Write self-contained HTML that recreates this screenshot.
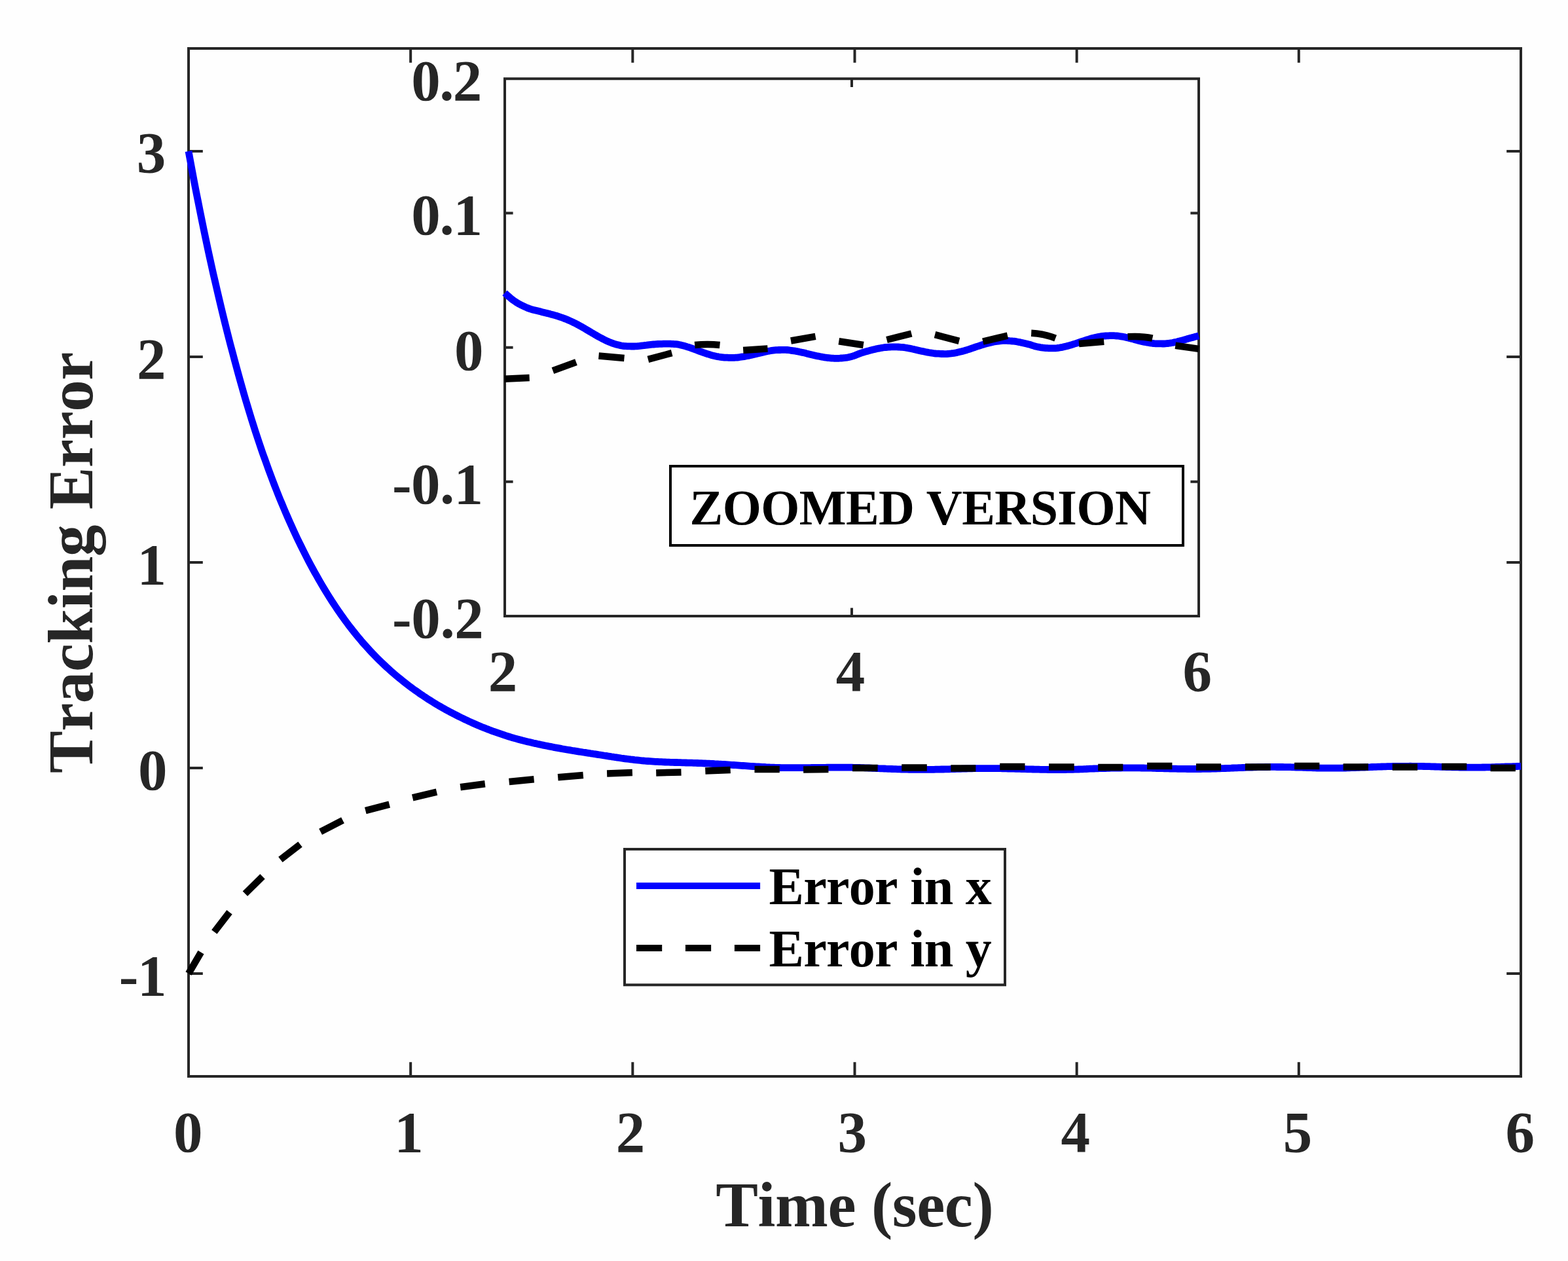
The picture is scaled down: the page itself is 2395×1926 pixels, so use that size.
<!DOCTYPE html>
<html lang="en"><head><meta charset="utf-8"><title>Tracking Error</title>
<style>
html,body{margin:0;padding:0;background:#fefefe;}
body{width:2395px;height:1926px;overflow:hidden;}
svg{display:block;}
.b{font-family:"Liberation Serif",serif;font-weight:bold;font-kerning:none;font-variant-ligatures:none;}
</style></head><body>
<svg width="2395" height="1926" viewBox="0 0 2395 1926">
<rect x="0" y="0" width="2395" height="1926" fill="#fefefe"/>
<path d="M288.0,74.0 H2323.0 V1644.0 H288.0 Z M627.17,1644.0 v-21.8 M627.17,74.0 v21.8 M966.33,1644.0 v-21.8 M966.33,74.0 v21.8 M1305.50,1644.0 v-21.8 M1305.50,74.0 v21.8 M1644.67,1644.0 v-21.8 M1644.67,74.0 v21.8 M1983.83,1644.0 v-21.8 M1983.83,74.0 v21.8 M288.0,1487.00 h21.8 M2323.0,1487.00 h-21.8 M288.0,1173.00 h21.8 M2323.0,1173.00 h-21.8 M288.0,859.00 h21.8 M2323.0,859.00 h-21.8 M288.0,545.00 h21.8 M2323.0,545.00 h-21.8 M288.0,231.00 h21.8 M2323.0,231.00 h-21.8" fill="none" stroke="#262626" stroke-width="4" stroke-linejoin="miter"/>
<path d="M771.0,120.3 H1831.0 V941.0 H771.0 Z M1301.00,941.0 v-12.6 M1301.00,120.3 v12.6 M771.0,735.83 h12.6 M1831.0,735.83 h-12.6 M771.0,530.65 h12.6 M1831.0,530.65 h-12.6 M771.0,325.48 h12.6 M1831.0,325.48 h-12.6" fill="none" stroke="#262626" stroke-width="4" stroke-linejoin="miter"/>
<path d="M288.0,231.0 L290.9,246.9 L293.8,262.6 L296.7,277.9 L299.6,293.1 L302.6,307.9 L305.5,322.5 L308.4,336.9 L311.3,351.0 L314.2,364.9 L317.1,378.6 L320.0,392.0 L322.9,405.2 L325.8,418.2 L328.8,431.0 L331.7,443.6 L334.6,456.0 L337.5,468.2 L340.4,480.2 L343.3,492.1 L346.2,503.7 L349.1,515.2 L352.0,526.5 L355.0,537.6 L357.9,548.6 L360.8,559.4 L363.7,570.0 L366.6,580.5 L369.5,590.8 L372.4,601.0 L375.3,611.0 L378.3,620.9 L381.2,630.5 L384.1,640.0 L387.0,649.2 L389.9,658.3 L392.8,667.2 L395.7,675.9 L398.6,684.5 L401.5,692.9 L404.5,701.2 L407.4,709.3 L410.3,717.3 L413.2,725.2 L416.1,732.9 L419.0,740.5 L421.9,747.9 L424.8,755.3 L427.7,762.5 L430.7,769.5 L433.6,776.5 L436.5,783.3 L439.4,790.0 L442.3,796.7 L445.2,803.1 L448.1,809.5 L451.0,815.8 L453.9,822.0 L456.9,828.1 L459.8,834.0 L462.7,839.9 L465.6,845.7 L468.5,851.4 L471.4,857.0 L474.3,862.5 L477.2,867.9 L480.1,873.2 L483.1,878.4 L486.0,883.6 L488.9,888.6 L491.8,893.6 L494.7,898.5 L497.6,903.3 L500.5,908.0 L503.4,912.6 L506.3,917.2 L509.3,921.7 L512.2,926.1 L515.1,930.4 L518.0,934.7 L520.9,938.8 L523.8,942.9 L526.7,947.0 L529.6,950.9 L532.5,954.8 L535.5,958.6 L538.4,962.4 L541.3,966.0 L544.2,969.6 L547.1,973.2 L550.0,976.6 L552.9,980.1 L555.8,983.4 L558.8,986.7 L561.7,989.9 L564.6,993.1 L567.5,996.2 L570.4,999.2 L573.3,1002.2 L576.2,1005.2 L579.1,1008.1 L582.0,1010.9 L585.0,1013.7 L587.9,1016.5 L590.8,1019.2 L593.7,1021.8 L596.6,1024.4 L599.5,1027.0 L602.4,1029.5 L605.3,1032.0 L608.2,1034.4 L611.2,1036.8 L614.1,1039.2 L617.0,1041.5 L619.9,1043.8 L622.8,1046.0 L625.7,1048.2 L628.6,1050.4 L631.5,1052.5 L634.4,1054.6 L637.4,1056.6 L640.3,1058.7 L643.2,1060.7 L646.1,1062.6 L649.0,1064.6 L651.9,1066.5 L654.8,1068.4 L657.7,1070.2 L660.6,1072.0 L663.6,1073.8 L666.5,1075.6 L669.4,1077.3 L672.3,1079.0 L675.2,1080.7 L678.1,1082.3 L681.0,1083.9 L683.9,1085.5 L686.8,1087.1 L689.8,1088.6 L692.7,1090.2 L695.6,1091.6 L698.5,1093.1 L701.4,1094.6 L704.3,1096.0 L707.2,1097.4 L710.1,1098.8 L713.1,1100.2 L716.0,1101.6 L718.9,1102.9 L721.8,1104.2 L724.7,1105.5 L727.6,1106.8 L730.5,1108.1 L733.4,1109.3 L736.3,1110.5 L739.3,1111.6 L742.2,1112.8 L745.1,1113.9 L748.0,1115.0 L750.9,1116.1 L753.8,1117.2 L756.7,1118.2 L759.6,1119.2 L762.5,1120.2 L765.5,1121.2 L768.4,1122.2 L771.3,1123.2 L774.2,1124.1 L777.1,1125.0 L780.0,1125.9 L782.9,1126.8 L785.8,1127.6 L788.7,1128.4 L791.7,1129.2 L794.6,1130.0 L797.5,1130.8 L800.4,1131.5 L803.3,1132.2 L806.2,1132.9 L809.1,1133.6 L812.0,1134.3 L814.9,1135.0 L817.9,1135.6 L820.8,1136.3 L823.7,1136.9 L826.6,1137.5 L829.5,1138.1 L832.4,1138.7 L835.3,1139.3 L838.2,1139.9 L841.1,1140.4 L844.1,1141.0 L847.0,1141.6 L849.9,1142.1 L852.8,1142.6 L855.7,1143.1 L858.6,1143.7 L861.5,1144.2 L864.4,1144.7 L867.3,1145.2 L870.3,1145.7 L873.2,1146.2 L876.1,1146.7 L879.0,1147.1 L881.9,1147.6 L884.8,1148.1 L887.7,1148.5 L890.6,1149.0 L893.6,1149.4 L896.5,1149.9 L899.4,1150.3 L902.3,1150.8 L905.2,1151.2 L908.1,1151.7 L911.0,1152.1 L913.9,1152.6 L916.8,1153.0 L919.8,1153.5 L922.7,1154.0 L925.6,1154.4 L928.5,1154.9 L931.4,1155.3 L934.3,1155.8 L937.2,1156.2 L940.1,1156.7 L943.0,1157.1 L946.0,1157.5 L948.9,1158.0 L951.8,1158.4 L954.7,1158.8 L957.6,1159.2 L960.5,1159.5 L963.4,1159.9 L966.3,1160.2 L969.2,1160.6 L972.2,1160.9 L975.1,1161.2 L978.0,1161.5 L980.9,1161.8 L983.8,1162.0 L986.7,1162.3 L989.6,1162.5 L992.5,1162.7 L995.4,1162.9 L998.4,1163.1 L1001.3,1163.3 L1004.2,1163.4 L1007.1,1163.6 L1010.0,1163.7 L1012.9,1163.9 L1015.8,1164.0 L1018.7,1164.1 L1021.6,1164.2 L1024.6,1164.3 L1027.5,1164.4 L1030.4,1164.5 L1033.3,1164.5 L1036.2,1164.6 L1039.1,1164.7 L1042.0,1164.8 L1044.9,1164.9 L1047.8,1165.0 L1050.8,1165.1 L1053.7,1165.2 L1056.6,1165.2 L1059.5,1165.3 L1062.4,1165.4 L1065.3,1165.5 L1068.2,1165.6 L1071.1,1165.7 L1074.1,1165.9 L1077.0,1166.0 L1079.9,1166.1 L1082.8,1166.2 L1085.7,1166.4 L1088.6,1166.5 L1091.5,1166.7 L1094.4,1166.8 L1097.3,1167.0 L1100.3,1167.1 L1103.2,1167.3 L1106.1,1167.5 L1109.0,1167.7 L1111.9,1167.9 L1114.8,1168.1 L1117.7,1168.3 L1120.6,1168.5 L1123.5,1168.7 L1126.5,1168.9 L1129.4,1169.1 L1132.3,1169.3 L1135.2,1169.5 L1138.1,1169.7 L1141.0,1169.9 L1143.9,1170.1 L1146.8,1170.3 L1149.7,1170.5 L1152.7,1170.7 L1155.6,1170.9 L1158.5,1171.0 L1161.4,1171.2 L1164.3,1171.4 L1167.2,1171.5 L1170.1,1171.7 L1173.0,1171.8 L1175.9,1172.0 L1178.9,1172.1 L1181.8,1172.2 L1184.7,1172.3 L1187.6,1172.4 L1190.5,1172.5 L1193.4,1172.6 L1196.3,1172.6 L1199.2,1172.7 L1202.1,1172.7 L1205.1,1172.7 L1208.0,1172.7 L1210.9,1172.7 L1213.8,1172.7 L1216.7,1172.7 L1219.6,1172.7 L1222.5,1172.7 L1225.4,1172.7 L1228.4,1172.7 L1231.3,1172.6 L1234.2,1172.6 L1237.1,1172.6 L1240.0,1172.5 L1242.9,1172.5 L1245.8,1172.4 L1248.7,1172.4 L1251.6,1172.4 L1254.6,1172.3 L1257.5,1172.3 L1260.4,1172.3 L1263.3,1172.2 L1266.2,1172.2 L1269.1,1172.2 L1272.0,1172.2 L1274.9,1172.2 L1277.8,1172.2 L1280.8,1172.2 L1283.7,1172.2 L1286.6,1172.2 L1289.5,1172.2 L1292.4,1172.2 L1295.3,1172.2 L1298.2,1172.2 L1301.1,1172.2 L1304.0,1172.3 L1307.0,1172.3 L1309.9,1172.4 L1312.8,1172.5 L1315.7,1172.6 L1318.6,1172.7 L1321.5,1172.8 L1324.4,1172.9 L1327.3,1173.0 L1330.2,1173.1 L1333.2,1173.3 L1336.1,1173.4 L1339.0,1173.5 L1341.9,1173.7 L1344.8,1173.8 L1347.7,1173.9 L1350.6,1174.0 L1353.5,1174.2 L1356.4,1174.3 L1359.4,1174.4 L1362.3,1174.5 L1365.2,1174.6 L1368.1,1174.7 L1371.0,1174.8 L1373.9,1174.9 L1376.8,1175.0 L1379.7,1175.1 L1382.6,1175.1 L1385.6,1175.2 L1388.5,1175.3 L1391.4,1175.3 L1394.3,1175.4 L1397.2,1175.4 L1400.1,1175.4 L1403.0,1175.4 L1405.9,1175.4 L1408.9,1175.4 L1411.8,1175.4 L1414.7,1175.4 L1417.6,1175.4 L1420.5,1175.4 L1423.4,1175.3 L1426.3,1175.3 L1429.2,1175.2 L1432.1,1175.2 L1435.1,1175.1 L1438.0,1175.0 L1440.9,1175.0 L1443.8,1174.9 L1446.7,1174.8 L1449.6,1174.8 L1452.5,1174.7 L1455.4,1174.6 L1458.3,1174.5 L1461.3,1174.4 L1464.2,1174.3 L1467.1,1174.3 L1470.0,1174.2 L1472.9,1174.1 L1475.8,1174.0 L1478.7,1173.9 L1481.6,1173.9 L1484.5,1173.8 L1487.5,1173.7 L1490.4,1173.7 L1493.3,1173.6 L1496.2,1173.6 L1499.1,1173.6 L1502.0,1173.6 L1504.9,1173.6 L1507.8,1173.6 L1510.7,1173.6 L1513.7,1173.6 L1516.6,1173.6 L1519.5,1173.6 L1522.4,1173.6 L1525.3,1173.7 L1528.2,1173.7 L1531.1,1173.8 L1534.0,1173.8 L1536.9,1173.9 L1539.9,1174.0 L1542.8,1174.0 L1545.7,1174.1 L1548.6,1174.2 L1551.5,1174.3 L1554.4,1174.4 L1557.3,1174.4 L1560.2,1174.5 L1563.2,1174.6 L1566.1,1174.7 L1569.0,1174.8 L1571.9,1174.9 L1574.8,1174.9 L1577.7,1175.0 L1580.6,1175.1 L1583.5,1175.2 L1586.4,1175.2 L1589.4,1175.3 L1592.3,1175.3 L1595.2,1175.4 L1598.1,1175.4 L1601.0,1175.5 L1603.9,1175.5 L1606.8,1175.5 L1609.7,1175.5 L1612.6,1175.6 L1615.6,1175.6 L1618.5,1175.5 L1621.4,1175.5 L1624.3,1175.5 L1627.2,1175.5 L1630.1,1175.4 L1633.0,1175.4 L1635.9,1175.3 L1638.8,1175.3 L1641.8,1175.2 L1644.7,1175.1 L1647.6,1175.0 L1650.5,1174.9 L1653.4,1174.8 L1656.3,1174.6 L1659.2,1174.5 L1662.1,1174.3 L1665.0,1174.2 L1668.0,1174.1 L1670.9,1174.0 L1673.8,1173.9 L1676.7,1173.8 L1679.6,1173.7 L1682.5,1173.6 L1685.4,1173.5 L1688.3,1173.5 L1691.2,1173.4 L1694.2,1173.3 L1697.1,1173.2 L1700.0,1173.2 L1702.9,1173.1 L1705.8,1173.1 L1708.7,1173.0 L1711.6,1173.0 L1714.5,1172.9 L1717.4,1172.9 L1720.4,1172.9 L1723.3,1172.9 L1726.2,1172.9 L1729.1,1172.9 L1732.0,1172.9 L1734.9,1172.9 L1737.8,1172.9 L1740.7,1172.9 L1743.7,1173.0 L1746.6,1173.0 L1749.5,1173.1 L1752.4,1173.1 L1755.3,1173.2 L1758.2,1173.2 L1761.1,1173.3 L1764.0,1173.4 L1766.9,1173.5 L1769.9,1173.5 L1772.8,1173.6 L1775.7,1173.7 L1778.6,1173.8 L1781.5,1173.9 L1784.4,1173.9 L1787.3,1174.0 L1790.2,1174.1 L1793.1,1174.1 L1796.1,1174.2 L1799.0,1174.3 L1801.9,1174.3 L1804.8,1174.4 L1807.7,1174.4 L1810.6,1174.4 L1813.5,1174.5 L1816.4,1174.5 L1819.3,1174.5 L1822.3,1174.5 L1825.2,1174.5 L1828.1,1174.5 L1831.0,1174.5 L1833.9,1174.5 L1836.8,1174.4 L1839.7,1174.4 L1842.6,1174.4 L1845.5,1174.3 L1848.5,1174.3 L1851.4,1174.2 L1854.3,1174.1 L1857.2,1174.0 L1860.1,1173.9 L1863.0,1173.8 L1865.9,1173.7 L1868.8,1173.6 L1871.7,1173.5 L1874.7,1173.4 L1877.6,1173.3 L1880.5,1173.2 L1883.4,1173.0 L1886.3,1172.9 L1889.2,1172.8 L1892.1,1172.7 L1895.0,1172.6 L1897.9,1172.5 L1900.9,1172.4 L1903.8,1172.2 L1906.7,1172.1 L1909.6,1172.1 L1912.5,1172.0 L1915.4,1171.9 L1918.3,1171.8 L1921.2,1171.7 L1924.2,1171.7 L1927.1,1171.6 L1930.0,1171.6 L1932.9,1171.5 L1935.8,1171.5 L1938.7,1171.4 L1941.6,1171.4 L1944.5,1171.4 L1947.4,1171.4 L1950.4,1171.5 L1953.3,1171.5 L1956.2,1171.5 L1959.1,1171.5 L1962.0,1171.6 L1964.9,1171.6 L1967.8,1171.7 L1970.7,1171.7 L1973.6,1171.8 L1976.6,1171.9 L1979.5,1172.0 L1982.4,1172.0 L1985.3,1172.1 L1988.2,1172.2 L1991.1,1172.3 L1994.0,1172.4 L1996.9,1172.5 L1999.8,1172.6 L2002.8,1172.7 L2005.7,1172.8 L2008.6,1172.9 L2011.5,1173.0 L2014.4,1173.0 L2017.3,1173.1 L2020.2,1173.1 L2023.1,1173.1 L2026.0,1173.2 L2029.0,1173.2 L2031.9,1173.2 L2034.8,1173.2 L2037.7,1173.2 L2040.6,1173.2 L2043.5,1173.2 L2046.4,1173.1 L2049.3,1173.1 L2052.2,1173.0 L2055.2,1173.0 L2058.1,1172.9 L2061.0,1172.8 L2063.9,1172.7 L2066.8,1172.6 L2069.7,1172.5 L2072.6,1172.4 L2075.5,1172.3 L2078.5,1172.2 L2081.4,1172.1 L2084.3,1172.0 L2087.2,1171.9 L2090.1,1171.8 L2093.0,1171.7 L2095.9,1171.5 L2098.8,1171.4 L2101.7,1171.3 L2104.7,1171.2 L2107.6,1171.1 L2110.5,1171.0 L2113.4,1170.9 L2116.3,1170.8 L2119.2,1170.7 L2122.1,1170.6 L2125.0,1170.6 L2127.9,1170.5 L2130.9,1170.4 L2133.8,1170.4 L2136.7,1170.3 L2139.6,1170.3 L2142.5,1170.3 L2145.4,1170.3 L2148.3,1170.3 L2151.2,1170.3 L2154.1,1170.2 L2157.1,1170.3 L2160.0,1170.3 L2162.9,1170.3 L2165.8,1170.3 L2168.7,1170.4 L2171.6,1170.4 L2174.5,1170.5 L2177.4,1170.6 L2180.3,1170.6 L2183.3,1170.7 L2186.2,1170.8 L2189.1,1170.9 L2192.0,1171.0 L2194.9,1171.1 L2197.8,1171.2 L2200.7,1171.3 L2203.6,1171.4 L2206.5,1171.4 L2209.5,1171.5 L2212.4,1171.6 L2215.3,1171.7 L2218.2,1171.8 L2221.1,1171.8 L2224.0,1171.9 L2226.9,1171.9 L2229.8,1172.0 L2232.7,1172.0 L2235.7,1172.1 L2238.6,1172.1 L2241.5,1172.1 L2244.4,1172.1 L2247.3,1172.1 L2250.2,1172.1 L2253.1,1172.1 L2256.0,1172.1 L2259.0,1172.1 L2261.9,1172.1 L2264.8,1172.0 L2267.7,1172.0 L2270.6,1171.9 L2273.5,1171.9 L2276.4,1171.8 L2279.3,1171.7 L2282.2,1171.6 L2285.2,1171.5 L2288.1,1171.4 L2291.0,1171.3 L2293.9,1171.2 L2296.8,1171.1 L2299.7,1171.0 L2302.6,1170.9 L2305.5,1170.8 L2308.4,1170.8 L2311.4,1170.7 L2314.3,1170.6 L2317.2,1170.5 L2320.1,1170.4 L2323.0,1170.3" fill="none" stroke="#0000ff" stroke-width="10.8" stroke-linejoin="round"/>
<path d="M288.0,1487.0 L307.0,1454.5 M327.3,1423.4 L350.5,1393.2 M374.4,1365.0 L401.0,1338.7 M428.4,1312.8 L458.5,1289.6 M489.6,1270.3 L523.5,1252.9 M558.3,1238.1 L594.7,1228.6 M630.2,1218.4 L667.0,1209.6 M703.2,1202.2 L740.8,1197.3 M777.6,1193.9 L815.6,1190.2 M852.2,1187.2 L890.8,1183.9 M927.1,1181.4 L965.9,1180.1 M1002.2,1180.4 L1040.5,1179.4 M1077.3,1177.6 L1115.7,1175.9 M1152.5,1174.9 L1190.8,1175.1 M1227.1,1175.6 L1265.4,1175.1 M1302.1,1173.1 L1340.6,1173.1 M1377.2,1172.6 L1415.8,1172.6 M1452.3,1173.4 L1490.4,1173.4 M1527.2,1170.9 L1565.5,1170.9 M1602.1,1171.6 L1640.7,1171.6 M1677.2,1172.1 L1715.3,1172.1 M1752.1,1169.9 L1790.4,1169.9 M1827.0,1171.4 L1865.1,1171.4 M1901.9,1171.4 L1940.7,1171.4 M1977.1,1169.9 L2015.4,1169.9 M2051.7,1171.6 L2090.0,1171.6 M2126.8,1171.4 L2165.1,1171.4 M2202.0,1170.9 L2240.3,1170.9 M2276.6,1173.1 L2314.9,1173.1" fill="none" stroke="#000" stroke-width="10.5"/>
<path d="M771.0,447.3 L773.1,449.3 L775.2,451.3 L777.4,453.2 L779.5,455.0 L781.6,456.8 L783.7,458.4 L785.9,459.9 L788.0,461.3 L790.1,462.6 L792.2,463.9 L794.4,465.1 L796.5,466.2 L798.6,467.2 L800.7,468.2 L802.9,469.2 L805.0,470.1 L807.1,470.9 L809.2,471.7 L811.4,472.4 L813.5,473.0 L815.6,473.6 L817.7,474.1 L819.9,474.6 L822.0,475.1 L824.1,475.6 L826.2,476.1 L828.4,476.7 L830.5,477.2 L832.6,477.7 L834.7,478.2 L836.9,478.8 L839.0,479.3 L841.1,479.9 L843.2,480.4 L845.3,481.0 L847.5,481.6 L849.6,482.2 L851.7,482.9 L853.8,483.6 L856.0,484.3 L858.1,485.0 L860.2,485.8 L862.3,486.6 L864.5,487.4 L866.6,488.3 L868.7,489.2 L870.8,490.1 L873.0,491.1 L875.1,492.1 L877.2,493.2 L879.3,494.2 L881.5,495.3 L883.6,496.5 L885.7,497.6 L887.8,498.8 L890.0,500.0 L892.1,501.2 L894.2,502.5 L896.3,503.7 L898.5,505.0 L900.6,506.3 L902.7,507.5 L904.8,508.8 L907.0,510.0 L909.1,511.3 L911.2,512.5 L913.3,513.7 L915.4,514.9 L917.6,516.0 L919.7,517.1 L921.8,518.2 L923.9,519.3 L926.1,520.3 L928.2,521.3 L930.3,522.2 L932.4,523.0 L934.6,523.9 L936.7,524.7 L938.8,525.4 L940.9,526.0 L943.1,526.6 L945.2,527.1 L947.3,527.6 L949.4,528.0 L951.6,528.3 L953.7,528.6 L955.8,528.7 L957.9,528.8 L960.1,528.9 L962.2,528.9 L964.3,529.0 L966.4,529.0 L968.6,529.0 L970.7,528.9 L972.8,528.8 L974.9,528.6 L977.1,528.4 L979.2,528.1 L981.3,527.9 L983.4,527.7 L985.5,527.4 L987.7,527.2 L989.8,526.9 L991.9,526.6 L994.0,526.4 L996.2,526.2 L998.3,526.0 L1000.4,525.8 L1002.5,525.6 L1004.7,525.5 L1006.8,525.4 L1008.9,525.3 L1011.0,525.3 L1013.2,525.2 L1015.3,525.2 L1017.4,525.2 L1019.5,525.2 L1021.7,525.2 L1023.8,525.2 L1025.9,525.3 L1028.0,525.4 L1030.2,525.6 L1032.3,525.7 L1034.4,525.9 L1036.5,526.3 L1038.7,526.7 L1040.8,527.3 L1042.9,527.8 L1045.0,528.3 L1047.2,528.9 L1049.3,529.6 L1051.4,530.2 L1053.5,530.9 L1055.6,531.6 L1057.8,532.4 L1059.9,533.2 L1062.0,534.0 L1064.1,534.8 L1066.3,535.6 L1068.4,536.4 L1070.5,537.2 L1072.6,537.9 L1074.8,538.7 L1076.9,539.4 L1079.0,540.1 L1081.1,540.8 L1083.3,541.4 L1085.4,542.1 L1087.5,542.7 L1089.6,543.2 L1091.8,543.7 L1093.9,544.2 L1096.0,544.6 L1098.1,545.0 L1100.3,545.3 L1102.4,545.7 L1104.5,545.9 L1106.6,546.1 L1108.8,546.2 L1110.9,546.2 L1113.0,546.3 L1115.1,546.3 L1117.3,546.3 L1119.4,546.3 L1121.5,546.3 L1123.6,546.2 L1125.7,546.1 L1127.9,545.8 L1130.0,545.5 L1132.1,545.2 L1134.2,544.9 L1136.4,544.6 L1138.5,544.2 L1140.6,543.8 L1142.7,543.4 L1144.9,542.9 L1147.0,542.5 L1149.1,542.0 L1151.2,541.5 L1153.4,541.0 L1155.5,540.5 L1157.6,539.9 L1159.7,539.4 L1161.9,538.9 L1164.0,538.4 L1166.1,537.9 L1168.2,537.4 L1170.4,537.0 L1172.5,536.5 L1174.6,536.2 L1176.7,535.8 L1178.9,535.4 L1181.0,535.1 L1183.1,534.8 L1185.2,534.6 L1187.4,534.6 L1189.5,534.5 L1191.6,534.5 L1193.7,534.4 L1195.8,534.4 L1198.0,534.4 L1200.1,534.4 L1202.2,534.5 L1204.3,534.7 L1206.5,535.0 L1208.6,535.3 L1210.7,535.6 L1212.8,535.9 L1215.0,536.2 L1217.1,536.6 L1219.2,537.0 L1221.3,537.5 L1223.5,537.9 L1225.6,538.4 L1227.7,538.8 L1229.8,539.3 L1232.0,539.9 L1234.1,540.4 L1236.2,540.9 L1238.3,541.4 L1240.5,541.9 L1242.6,542.4 L1244.7,542.9 L1246.8,543.4 L1249.0,543.9 L1251.1,544.3 L1253.2,544.7 L1255.3,545.1 L1257.5,545.5 L1259.6,545.9 L1261.7,546.2 L1263.8,546.5 L1265.9,546.7 L1268.1,546.9 L1270.2,547.1 L1272.3,547.2 L1274.4,547.3 L1276.6,547.4 L1278.7,547.4 L1280.8,547.3 L1282.9,547.2 L1285.1,547.0 L1287.2,546.8 L1289.3,546.6 L1291.4,546.4 L1293.6,546.1 L1295.7,545.7 L1297.8,545.2 L1299.9,544.7 L1302.1,544.1 L1304.2,543.5 L1306.3,542.7 L1308.4,541.8 L1310.6,540.9 L1312.7,540.1 L1314.8,539.4 L1316.9,538.7 L1319.1,538.0 L1321.2,537.4 L1323.3,536.8 L1325.4,536.2 L1327.6,535.6 L1329.7,535.0 L1331.8,534.5 L1333.9,533.9 L1336.1,533.4 L1338.2,532.9 L1340.3,532.5 L1342.4,532.1 L1344.5,531.7 L1346.7,531.3 L1348.8,531.0 L1350.9,530.7 L1353.0,530.5 L1355.2,530.3 L1357.3,530.1 L1359.4,530.0 L1361.5,529.9 L1363.7,529.8 L1365.8,529.8 L1367.9,529.8 L1370.0,529.9 L1372.2,530.0 L1374.3,530.1 L1376.4,530.3 L1378.5,530.4 L1380.7,530.7 L1382.8,531.0 L1384.9,531.3 L1387.0,531.7 L1389.2,532.1 L1391.3,532.5 L1393.4,533.0 L1395.5,533.4 L1397.7,533.9 L1399.8,534.4 L1401.9,534.9 L1404.0,535.4 L1406.2,535.9 L1408.3,536.4 L1410.4,536.8 L1412.5,537.3 L1414.6,537.7 L1416.8,538.1 L1418.9,538.5 L1421.0,538.8 L1423.1,539.2 L1425.3,539.5 L1427.4,539.8 L1429.5,540.0 L1431.6,540.1 L1433.8,540.2 L1435.9,540.4 L1438.0,540.5 L1440.1,540.5 L1442.3,540.6 L1444.4,540.6 L1446.5,540.5 L1448.6,540.3 L1450.8,540.1 L1452.9,539.9 L1455.0,539.6 L1457.1,539.4 L1459.3,539.0 L1461.4,538.6 L1463.5,538.1 L1465.6,537.6 L1467.8,537.1 L1469.9,536.5 L1472.0,536.0 L1474.1,535.3 L1476.3,534.7 L1478.4,534.0 L1480.5,533.3 L1482.6,532.6 L1484.7,531.9 L1486.9,531.2 L1489.0,530.4 L1491.1,529.7 L1493.2,529.0 L1495.4,528.3 L1497.5,527.6 L1499.6,526.9 L1501.7,526.3 L1503.9,525.6 L1506.0,525.0 L1508.1,524.4 L1510.2,523.9 L1512.4,523.4 L1514.5,522.9 L1516.6,522.4 L1518.7,522.0 L1520.9,521.6 L1523.0,521.4 L1525.1,521.1 L1527.2,520.8 L1529.4,520.6 L1531.5,520.4 L1533.6,520.4 L1535.7,520.4 L1537.9,520.4 L1540.0,520.5 L1542.1,520.7 L1544.2,520.8 L1546.4,521.0 L1548.5,521.1 L1550.6,521.4 L1552.7,521.8 L1554.8,522.2 L1557.0,522.6 L1559.1,523.1 L1561.2,523.5 L1563.3,524.0 L1565.5,524.5 L1567.6,525.0 L1569.7,525.5 L1571.8,526.1 L1574.0,526.6 L1576.1,527.3 L1578.2,528.0 L1580.3,528.7 L1582.5,529.3 L1584.6,529.7 L1586.7,530.1 L1588.8,530.6 L1591.0,530.9 L1593.1,531.2 L1595.2,531.4 L1597.3,531.6 L1599.5,531.7 L1601.6,531.8 L1603.7,531.9 L1605.8,531.9 L1608.0,531.9 L1610.1,531.9 L1612.2,531.8 L1614.3,531.6 L1616.5,531.3 L1618.6,531.0 L1620.7,530.6 L1622.8,530.3 L1624.9,529.8 L1627.1,529.3 L1629.2,528.8 L1631.3,528.2 L1633.4,527.6 L1635.6,527.0 L1637.7,526.4 L1639.8,525.7 L1641.9,525.0 L1644.1,524.3 L1646.2,523.6 L1648.3,522.9 L1650.4,522.2 L1652.6,521.5 L1654.7,520.8 L1656.8,520.1 L1658.9,519.4 L1661.1,518.7 L1663.2,518.1 L1665.3,517.4 L1667.4,516.8 L1669.6,516.2 L1671.7,515.7 L1673.8,515.2 L1675.9,514.8 L1678.1,514.4 L1680.2,514.0 L1682.3,513.6 L1684.4,513.3 L1686.6,513.1 L1688.7,513.0 L1690.8,512.9 L1692.9,512.8 L1695.0,512.7 L1697.2,512.7 L1699.3,512.7 L1701.4,512.7 L1703.5,512.8 L1705.7,513.0 L1707.8,513.2 L1709.9,513.5 L1712.0,513.8 L1714.2,514.1 L1716.3,514.5 L1718.4,514.9 L1720.5,515.4 L1722.7,515.9 L1724.8,516.5 L1726.9,517.0 L1729.0,517.6 L1731.2,518.1 L1733.3,518.7 L1735.4,519.3 L1737.5,519.9 L1739.7,520.4 L1741.8,520.9 L1743.9,521.4 L1746.0,521.9 L1748.2,522.4 L1750.3,522.8 L1752.4,523.2 L1754.5,523.5 L1756.7,523.9 L1758.8,524.2 L1760.9,524.5 L1763.0,524.7 L1765.1,524.8 L1767.3,524.8 L1769.4,524.9 L1771.5,524.9 L1773.6,524.9 L1775.8,525.0 L1777.9,525.0 L1780.0,524.9 L1782.1,524.7 L1784.3,524.5 L1786.4,524.2 L1788.5,523.8 L1790.6,523.5 L1792.8,523.1 L1794.9,522.6 L1797.0,522.2 L1799.1,521.6 L1801.3,521.1 L1803.4,520.5 L1805.5,520.0 L1807.6,519.4 L1809.8,518.8 L1811.9,518.1 L1814.0,517.5 L1816.1,516.9 L1818.3,516.3 L1820.4,515.8 L1822.5,515.2 L1824.6,514.6 L1826.8,514.1 L1828.9,513.5 L1831.0,513.0" fill="none" stroke="#0000ff" stroke-width="10.8" stroke-linejoin="round"/>
<path d="M771.0,578.7 L808.7,577.1 M844.4,566.1 L880.0,553.1 M914.5,543.4 L953.5,546.9 M989.9,548.8 L1026.2,539.2 M1061.2,527.0 Q1080.8,525.0 1099.5,527.0 M1135.2,534.9 L1172.5,532.5 M1208.0,520.5 L1245.6,513.8 M1281.3,521.2 L1318.8,527.0 M1354.5,519.0 L1392.2,509.5 M1428.0,511.2 L1465.0,520.8 M1501.3,521.6 L1539.0,512.7 M1575.2,508.8 Q1594.3,509.7 1612.2,516.6 M1648.0,525.1 L1686.2,521.8 M1722.6,514.3 Q1743.6,513.0 1760.3,516.6 M1795.3,527.7 L1831.0,532.9" fill="none" stroke="#000" stroke-width="10.5"/>
<rect x="1024" y="712" width="783" height="121" fill="#fff" stroke="#000" stroke-width="4"/>
<rect x="954" y="1297" width="581" height="207.3" fill="#fff" stroke="#262626" stroke-width="4"/>
<path d="M972,1353 H1161.1" stroke="#0000ff" stroke-width="10.2"/>
<path d="M972,1448 H1161.1" stroke="#000" stroke-width="10.2" stroke-dasharray="39.2 35.75"/>
<text x="265.00" y="1759.00" font-size="89" fill="#262626" class="b">0</text>
<text x="602.30" y="1759.00" font-size="89" fill="#262626" class="b">1</text>
<text x="940.70" y="1759.00" font-size="89" fill="#262626" class="b">2</text>
<text x="1279.60" y="1759.00" font-size="89" fill="#262626" class="b">3</text>
<text x="1620.50" y="1759.00" font-size="89" fill="#262626" class="b">4</text>
<text x="1959.80" y="1759.00" font-size="89" fill="#262626" class="b">5</text>
<text x="2299.50" y="1759.00" font-size="89" fill="#262626" class="b">6</text>
<text x="208.80" y="263.00" font-size="89" fill="#262626" class="b">3</text>
<text x="208.90" y="577.50" font-size="89" fill="#262626" class="b">2</text>
<text x="209.40" y="891.70" font-size="89" fill="#262626" class="b">1</text>
<text x="210.90" y="1205.90" font-size="89" fill="#262626" class="b">0</text>
<text x="181.70" y="1519.90" font-size="89" letter-spacing="-1.440" fill="#262626" class="b">-1</text>
<text x="628.30" y="153.20" font-size="89" letter-spacing="-1.620" fill="#262626" class="b">0.2</text>
<text x="628.30" y="358.30" font-size="89" letter-spacing="-1.260" fill="#262626" class="b">0.1</text>
<text x="694.00" y="564.50" font-size="89" fill="#262626" class="b">0</text>
<text x="599.10" y="769.30" font-size="89" letter-spacing="-0.660" fill="#262626" class="b">-0.1</text>
<text x="599.10" y="973.70" font-size="89" letter-spacing="-0.420" fill="#262626" class="b">-0.2</text>
<text x="745.80" y="1055.10" font-size="89" fill="#262626" class="b">2</text>
<text x="1276.80" y="1055.10" font-size="89" fill="#262626" class="b">4</text>
<text x="1806.50" y="1055.10" font-size="89" fill="#262626" class="b">6</text>
<text x="1093.20" y="1872.70" font-size="97" letter-spacing="-0.400" fill="#262626" class="b">Time (sec)</text>
<text x="1053.50" y="801.00" font-size="76" letter-spacing="-0.554" fill="#000" class="b">ZOOMED VERSION</text>
<text x="1174.60" y="1381.30" font-size="80" letter-spacing="-0.720" fill="#000" class="b">Error in x</text>
<text x="1174.60" y="1475.70" font-size="80" letter-spacing="-0.720" fill="#000" class="b">Error in y</text>
<text transform="translate(141.20,859.50) rotate(-90)" font-size="97" letter-spacing="-0.450" text-anchor="middle" fill="#262626" class="b">Tracking Error</text>
</svg>
</body></html>
